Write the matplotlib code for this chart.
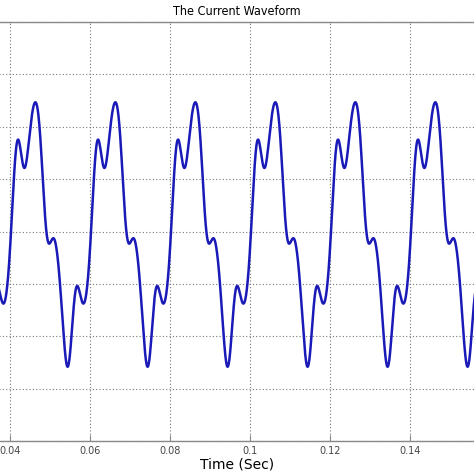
import numpy as np
import matplotlib
matplotlib.use("Agg")
import matplotlib.pyplot as plt

t_pts = [0.05750, 0.05858, 0.05958, 0.06025, 0.06083, 0.06133, 0.06208, 0.06293,
         0.06375, 0.06500, 0.06625, 0.06733, 0.06818, 0.06893, 0.06983, 0.07083,
         0.07183, 0.07293, 0.07418, 0.07543, 0.07625, 0.07693, 0.07775, 0.07850,
         0.07933]
i_pts = [-1.12, -1.43, -0.86, -0.03, 0.79, 1.50, 1.71, 1.43,
         1.21, 1.94, 2.45, 2.06, 0.98, 0.16, -0.26, -0.10,
         -0.48, -1.43, -2.58, -1.88, -1.24, -1.08, -1.24, -1.43,
         -0.86]
f0 = 50.0
harmonics = [1, 2, 3, 4, 5, 6, 7]
x_ticks = [0.04, 0.06, 0.08, 0.1, 0.12, 0.14]
x_labels = ["0.04", "0.06", "0.08", "0.1", "0.12", "0.14"]


def basis(t):
    cols = [np.ones_like(t)]
    for h in harmonics:
        w = 2 * np.pi * f0 * h * t
        cols += [np.sin(w), np.cos(w)]
    return np.column_stack(cols)


tp = np.array(t_pts)
coef, *_ = np.linalg.lstsq(basis(tp), np.array(i_pts), rcond=None)

t = np.linspace(0.03, 0.17, 4000)
i = basis(t) @ coef

fig = plt.figure(figsize=(4.74, 4.74), dpi=100)
ax = fig.add_axes([-0.02, 0.0696, 1.04, 0.884])
ax.plot(t, i, color="#1a1ab8", lw=1.8)
ax.set_xlim(0.035125, 0.158375)
ax.set_ylim(-4, 4)
ax.set_xticks(x_ticks)
ax.set_xticklabels(x_labels)
ax.set_yticks(np.arange(-4, 5, 1))
ax.set_yticklabels([])
ax.grid(True, linestyle=(0, (1, 2)), color="#777777", lw=0.8)
for s in ax.spines.values():
    s.set_color("#888888")
    s.set_linewidth(1.0)
ax.tick_params(colors="#888888", labelcolor="#444444", labelsize=7, direction="in", length=4)
ax.set_title("The Current Waveform", fontsize=9, pad=5, fontstretch="condensed")
ax.set_xlabel("Time (Sec)", fontsize=10, labelpad=1)
fig.savefig("out.png", dpi=100)
